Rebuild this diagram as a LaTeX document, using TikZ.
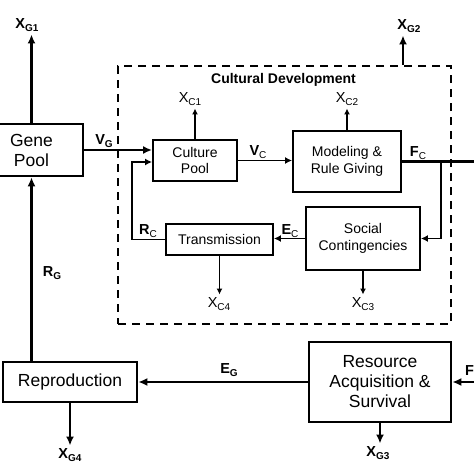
\documentclass[tikz,border=0pt]{standalone}
\usepackage{fontspec}
\setmainfont{Liberation Sans}
\usetikzlibrary{arrows.meta, calc, positioning}

\newcommand{\sub}[2]{#1\raisebox{-2.5pt}{\fontsize{10}{10}\selectfont #2}}

\begin{document}
\begin{tikzpicture}[x=1pt, y=-1pt, >={Latex[length=9pt, width=8pt]},
    outerbox/.style={draw, line width=2.6pt, inner sep=0pt, align=center, font=\fontsize{17.5}{20}\selectfont},
    innerbox/.style={draw, line width=1.9pt, inner sep=0pt, align=center, font=\fontsize{14}{16.5}\selectfont},
    bigflow/.style={->, line width=2.6pt},
    smallflow/.style={->, line width=1.9pt, >={Latex[length=7pt, width=7pt]}},
    lossflow/.style={->, line width=1.5pt, >={Latex[length=6pt, width=6pt]}},
    lbl/.style={inner sep=3pt, font=\fontsize{14.5}{16}\selectfont}]

        \useasboundingbox (0,0) rectangle (474,474);
        \clip (0,0) rectangle (474,474);

        % Cultural development frame
        \node[draw, line width=2.3pt, dash pattern=on 8pt off 6pt, minimum width=333pt, minimum height=258pt] (cultdev) at (284.5,195) {};
        \node[font=\bfseries\fontsize{14}{16}\selectfont] (cdtitle) at (283.5,80) {Cultural Development};

        \node[outerbox, minimum width=103pt, minimum height=52pt] (gene) at (31.5,150) {Gene\\Pool};
        \node[outerbox, minimum width=134pt, minimum height=40pt] (repro) at (70,382) {Reproduction};
        \node[outerbox, minimum width=142pt, minimum height=80pt] (resource) at (380,382) {Resource\\Acquisition \&\\Survival};

        \node[innerbox, minimum width=84pt, minimum height=41pt] (culture) at (195,160.5) {Culture\\Pool};
        \node[innerbox, minimum width=108pt, minimum height=61pt] (model) at (347,161.5) {Modeling \&\\Rule Giving};
        \node[innerbox, minimum width=114pt, minimum height=63pt] (social) at (363,238.5) {Social\\Contingencies};
        \node[innerbox, minimum width=107pt, minimum height=31pt] (trans) at (219.5,239.5) {Transmission};

        % losses
        \node[lbl] (xgone) at (27,25) {\textbf{\sub{X}{G1}}};
        \node[lbl] (xgtwo) at (409,26) {\textbf{\sub{X}{G2}}};
        \node[lbl] (xgthree) at (378,453) {\textbf{\sub{X}{G3}}};
        \node[lbl] (xgfour) at (70,455) {\textbf{\sub{X}{G4}}};
        \node[lbl] (xcone) at (190,99) {\sub{X}{C1}};
        \node[lbl] (xctwo) at (347,99) {\sub{X}{C2}};
        \node[lbl] (xcthree) at (363,304) {\sub{X}{C3}};
        \node[lbl] (xcfour) at (219,304) {\sub{X}{C4}};

        % flow labels
        \node[lbl] (vg) at (104,141) {\textbf{\sub{V}{G}}};
        \node[lbl] (vc) at (258,152) {\sub{\textbf{V}}{C}};
        \node[lbl] (fc) at (418,153) {\sub{\textbf{F}}{C}};
        \node[lbl] (ec) at (290,231) {\sub{\textbf{E}}{C}};
        \node[lbl] (rc) at (148,231) {\sub{\textbf{R}}{C}};
        \node[lbl] (rg) at (52,273) {\textbf{\sub{R}{G}}};
        \node[lbl] (eg) at (229,370) {\textbf{\sub{E}{G}}};
        \node[lbl, anchor=west, inner sep=0pt] (fg) at (465,372) {\textbf{\sub{F}{G}}};

        \coordinate (xgtwoarm) at ([xshift=-6pt]xgtwo.south);
        \coordinate (fcout) at (490,161.5);
        \coordinate (fcjoin) at (441,161.5);
        \coordinate (rcbend) at (132,239.5);
        \coordinate (fgin) at (490,382);

        \draw[bigflow] (gene.north) -- (gene.north |- xgone.south);
        \draw[bigflow] (xgtwoarm |- cultdev.north) -- (xgtwoarm);
        \draw[bigflow] (resource.south) -- (resource.south |- xgthree.north);
        \draw[bigflow] (repro.south) -- (repro.south |- xgfour.north);

        \draw[lossflow] (culture.north) -- (culture.north |- xcone.south);
        \draw[lossflow] (model.north) -- (model.north |- xctwo.south);
        \draw[lossflow] (social.south) -- (social.south |- xcthree.north);
        \draw[lossflow] (trans.south) -- (trans.south |- xcfour.north);

        \draw[bigflow] (gene.east) -- (gene.east -| culture.west);
        \draw[smallflow] (culture.east) -- (culture.east -| model.west);
        \draw[line width=2.3pt] (model.east) -- (fcout);
        \draw[smallflow] (fcjoin) |- (social.east);
        \draw[smallflow] (social.west) -- (social.west -| trans.east);
        \draw[smallflow] (trans.west) -- (rcbend) |- ([yshift=-1.5pt]culture.west);

        \draw[bigflow] (gene.south |- repro.north) -- (gene.south);
        \draw[bigflow] (resource.west) -- (repro.east);
        \draw[bigflow] (fgin) -- (resource.east);

\end{tikzpicture}
\end{document}
